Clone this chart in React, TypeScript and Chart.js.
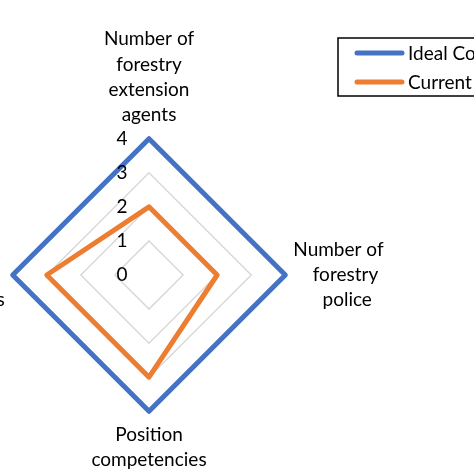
import React, { useEffect, useRef } from 'react';
import { Chart, registerables } from 'chart.js';

Chart.register(...registerables);

// axes run clockwise from the top
const axisLabels: string[][] = [
  ['Number of', 'forestry', 'extension', 'agents'],
  // padding spaces keep the short lines centred under the long one
  ['Number of', '    forestry', '      police'],
  ['Position', 'competencies'],
  ['Facilities       ', 'and            ', 'infrastructures'],
];
const idealValues = [4, 4, 4, 4];
const currentValues = [2, 2, 3, 3];
const seriesNames = ['Ideal Condition', 'Current Condition'];
const seriesColors = ['#4472C4', '#ED7D31'];
const scaleMax = 4;

const FONT = 'Lato';
const FONT_SIZE = 19;

// tick numbers sit left of the vertical axis
const sideTicks = {
  id: 'sideTicks',
  afterDatasetsDraw(chart: any) {
    const scale = chart.scales.r;
    const ctx = chart.ctx;
    ctx.save();
    ctx.font = `${FONT_SIZE}px ${FONT}`;
    ctx.fillStyle = '#000';
    ctx.textAlign = 'center';
    ctx.textBaseline = 'middle';
    scale.ticks.forEach((t: any) => {
      const d = scale.getDistanceFromCenterForValue(t.value);
      ctx.fillText(String(t.value), scale.xCenter - 27, scale.yCenter - d);
    });
    ctx.restore();
  },
};

// boxed legend in the top right corner
const boxLegend = {
  id: 'boxLegend',
  afterDraw(chart: any) {
    const ctx = chart.ctx;
    const x = 470;
    const y = 54;
    ctx.save();
    ctx.strokeStyle = '#000';
    ctx.lineWidth = 1.5;
    ctx.strokeRect(x, y, 220, 58);
    ctx.font = `${FONT_SIZE}px ${FONT}`;
    ctx.textBaseline = 'middle';
    ctx.lineCap = 'round';
    chart.data.datasets.forEach((ds: any, i: number) => {
      const ly = y + 15 + i * 29;
      ctx.strokeStyle = ds.borderColor;
      ctx.lineWidth = 5;
      ctx.beginPath();
      ctx.moveTo(x + 19, ly);
      ctx.lineTo(x + 64, ly);
      ctx.stroke();
      ctx.fillStyle = '#000';
      ctx.fillText(ds.label, x + 70, ly + 1);
    });
    ctx.restore();
  },
};

export default function App() {
  const chartRef = useRef<HTMLCanvasElement>(null);
  const chartInstance = useRef<Chart | null>(null);

  useEffect(() => {
    if (!chartRef.current) return;
    if (chartInstance.current) chartInstance.current.destroy();

    chartInstance.current = new Chart(chartRef.current, {
      type: 'radar',
      data: {
        labels: axisLabels,
        datasets: [
          {
            label: seriesNames[0],
            data: idealValues,
            borderColor: seriesColors[0],
            borderWidth: 5,
            borderJoinStyle: 'round',
            fill: false,
            pointRadius: 0,
          },
          {
            label: seriesNames[1],
            data: currentValues,
            borderColor: seriesColors[1],
            borderWidth: 5,
            borderJoinStyle: 'round',
            fill: false,
            pointRadius: 0,
          },
        ],
      },
      options: {
        responsive: true,
        maintainAspectRatio: false,
        animation: false,
        layout: { padding: { right: 120 } },
        plugins: {
          legend: { display: false },
          tooltip: { enabled: false },
        },
        scales: {
          r: {
            min: 0,
            max: scaleMax,
            ticks: { stepSize: 1, display: false },
            angleLines: { display: false },
            grid: { color: '#d9d9d9', lineWidth: 1.5 },
            pointLabels: {
              color: '#000',
              font: { family: FONT, size: FONT_SIZE, lineHeight: 1.33 },
              padding: (ctx: any) => (ctx.index % 2 === 0 ? 11 : 8),
            },
          },
        },
      },
      plugins: [sideTicks, boxLegend],
    });

    return () => {
      if (chartInstance.current) {
        chartInstance.current.destroy();
        chartInstance.current = null;
      }
    };
  }, []);

  return (
    <div style={{ position: 'fixed', left: 0, top: 0, width: 474, height: 474, overflow: 'hidden', background: '#fff' }}>
      <div style={{ position: 'absolute', left: -132, top: -16, width: 652, height: 532 }}>
        <canvas ref={chartRef}></canvas>
      </div>
    </div>
  );
}
